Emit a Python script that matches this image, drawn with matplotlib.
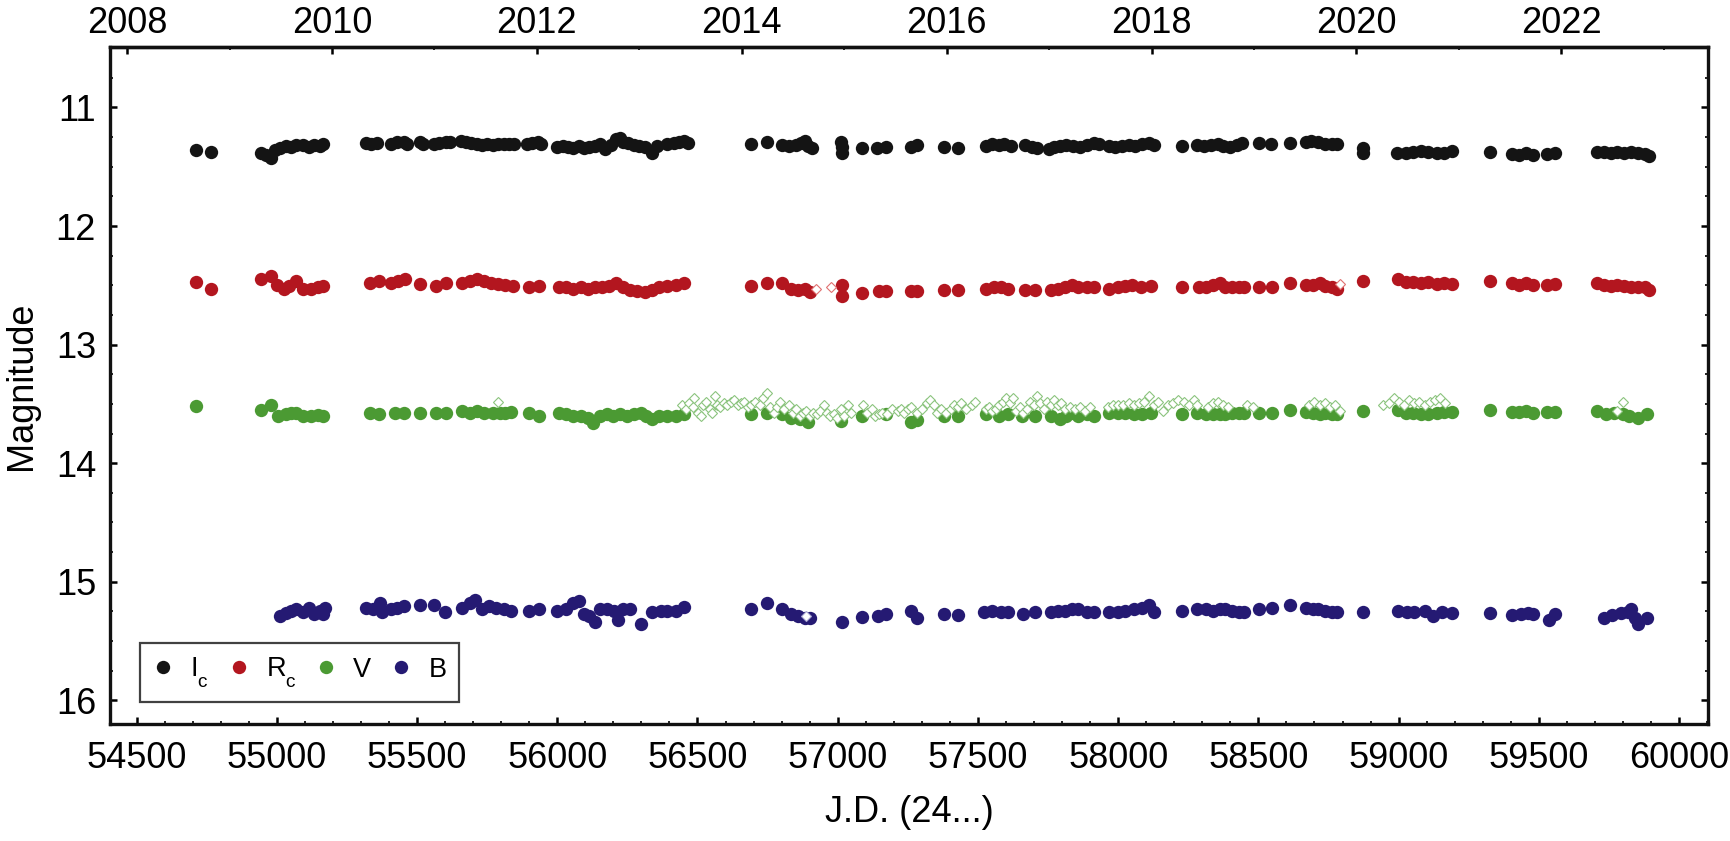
import matplotlib
matplotlib.use("Agg")
import matplotlib.pyplot as plt
from matplotlib.lines import Line2D
from matplotlib.ticker import MultipleLocator, FixedLocator

plt.rcParams['font.family'] = ['Liberation Sans', 'DejaVu Sans']
plt.rcParams['mathtext.fontset'] = 'custom'
plt.rcParams['mathtext.rm'] = 'Liberation Sans'
plt.rcParams['mathtext.it'] = 'Liberation Sans'
try:
    import matplotlib._mathtext as _mt
    _mt.FontConstantsBase.sub1 = 0.75
except Exception:
    pass

# ---------------- data (J.D. - 2400000, magnitude) ----------------
jd_I = [54711, 54767, 54943, 54962, 54981, 54994, 55013, 55032, 55051, 55070, 55095, 55114, 55134, 55153, 55165,
        55318, 55337, 55357, 55407, 55427, 55452, 55465, 55509, 55522, 55560, 55579, 55605, 55618,
        55656, 55675, 55694, 55713, 55732, 55751, 55770, 55790, 55809, 55828, 55847,
        55891, 55911, 55930, 55943,
        56000, 56019, 56038, 56057, 56076, 56095, 56114, 56133, 56153, 56172, 56191, 56210, 56223, 56235, 56254,
        56274, 56293, 56312, 56337, 56356, 56391, 56415, 56434, 56452, 56465,
        56692, 56747, 56802, 56827, 56851, 56870, 56882, 56894, 56907,
        57011, 57015, 57016, 57085, 57140, 57171, 57263, 57281, 57379, 57429,
        57527, 57551, 57576, 57594, 57619, 57668, 57693, 57711,
        57754, 57772, 57791, 57815, 57840, 57865, 57889, 57914, 57932,
        57969, 57987, 58012, 58037, 58061, 58086, 58110, 58129, 58227,
        58282, 58307, 58331, 58356, 58374, 58399, 58423, 58442, 58503, 58546, 58614,
        58669, 58688, 58712, 58737, 58761, 58780, 58872, 58874,
        58995, 59025, 59050, 59080, 59105, 59136, 59160, 59191, 59326,
        59406, 59430, 59455, 59480, 59529, 59559,
        59707, 59731, 59756, 59780, 59805, 59830, 59854, 59879, 59891]
mag_I = [11.357, 11.375, 11.382, 11.404, 11.425, 11.357, 11.341, 11.326, 11.332, 11.319, 11.313, 11.332, 11.319, 11.326, 11.307,
         11.301, 11.307, 11.301, 11.310, 11.294, 11.294, 11.310, 11.294, 11.307, 11.310, 11.301, 11.288, 11.294,
         11.279, 11.294, 11.301, 11.310, 11.313, 11.307, 11.313, 11.310, 11.310, 11.310, 11.307,
         11.310, 11.301, 11.294, 11.307,
         11.332, 11.326, 11.332, 11.344, 11.326, 11.338, 11.332, 11.326, 11.310, 11.351, 11.319, 11.263, 11.257, 11.294, 11.301,
         11.313, 11.326, 11.332, 11.382, 11.326, 11.310, 11.301, 11.294, 11.279, 11.301,
         11.310, 11.288, 11.319, 11.326, 11.319, 11.301, 11.279, 11.326, 11.341,
         11.288, 11.332, 11.382, 11.341, 11.341, 11.332, 11.332, 11.319, 11.332, 11.341,
         11.326, 11.310, 11.319, 11.310, 11.326, 11.319, 11.332, 11.341,
         11.351, 11.332, 11.326, 11.319, 11.326, 11.332, 11.319, 11.301, 11.310,
         11.326, 11.332, 11.326, 11.319, 11.326, 11.310, 11.301, 11.319, 11.326,
         11.319, 11.326, 11.313, 11.310, 11.326, 11.332, 11.313, 11.301, 11.301, 11.310, 11.301,
         11.294, 11.279, 11.288, 11.310, 11.310, 11.310, 11.341, 11.388,
         11.388, 11.382, 11.372, 11.369, 11.375, 11.388, 11.382, 11.369, 11.372,
         11.394, 11.404, 11.388, 11.404, 11.394, 11.388,
         11.372, 11.375, 11.382, 11.375, 11.382, 11.375, 11.382, 11.394, 11.407]

jd_R = [54711, 54767, 54943, 54981, 55000, 55025, 55044, 55070, 55095, 55121, 55146, 55165,
        55331, 55363, 55407, 55433, 55458, 55509, 55567, 55605,
        55662, 55688, 55713, 55739, 55764, 55790, 55815, 55841, 55898, 55936,
        56006, 56032, 56057, 56083, 56108, 56133, 56159, 56184, 56210, 56235, 56261, 56286, 56312, 56337, 56363,
        56391, 56422, 56452, 56692, 56747, 56802, 56833, 56858, 56882, 56901,
        57015, 57017, 57085, 57146, 57171, 57263, 57281, 57379, 57429,
        57527, 57558, 57582, 57607, 57668, 57705,
        57760, 57785, 57809, 57834, 57858, 57889, 57914,
        57969, 58000, 58024, 58049, 58080, 58116, 58227,
        58288, 58313, 58337, 58362, 58380, 58405, 58430, 58448, 58503, 58550, 58614,
        58669, 58694, 58718, 58737, 58761, 58780, 58872,
        58997, 59025, 59050, 59080, 59105, 59136, 59160, 59191, 59326,
        59406, 59430, 59455, 59480, 59529, 59559,
        59707, 59731, 59756, 59780, 59805, 59830, 59854, 59879, 59891]
mag_R = [12.471, 12.534, 12.449, 12.424, 12.496, 12.528, 12.506, 12.465, 12.528, 12.528, 12.518, 12.506,
         12.481, 12.465, 12.481, 12.465, 12.449, 12.490, 12.503, 12.481,
         12.481, 12.465, 12.449, 12.465, 12.481, 12.490, 12.496, 12.503, 12.512, 12.503,
         12.512, 12.518, 12.528, 12.518, 12.528, 12.518, 12.518, 12.506, 12.481, 12.518, 12.543, 12.549, 12.559, 12.537, 12.518,
         12.506, 12.496, 12.481, 12.503, 12.481, 12.481, 12.528, 12.543, 12.528, 12.559,
         12.496, 12.590, 12.568, 12.549, 12.549, 12.549, 12.549, 12.537, 12.537,
         12.528, 12.512, 12.518, 12.528, 12.537, 12.537,
         12.543, 12.528, 12.512, 12.496, 12.512, 12.518, 12.518,
         12.528, 12.518, 12.506, 12.496, 12.518, 12.506, 12.518,
         12.518, 12.512, 12.496, 12.481, 12.512, 12.518, 12.518, 12.512, 12.512, 12.518, 12.481,
         12.496, 12.496, 12.481, 12.506, 12.518, 12.528, 12.465,
         12.443, 12.474, 12.474, 12.481, 12.474, 12.487, 12.481, 12.487, 12.465,
         12.481, 12.496, 12.481, 12.496, 12.496, 12.487,
         12.481, 12.496, 12.506, 12.496, 12.506, 12.512, 12.512, 12.518, 12.543]

jd_R_open = [56921, 56977, 58792]
mag_R_open = [12.528, 12.512, 12.487]

jd_V = [54711, 54943, 54981, 55006, 55032, 55051, 55070, 55095, 55121, 55146, 55165,
        55331, 55363, 55420, 55452, 55509, 55567, 55605,
        55662, 55688, 55713, 55739, 55770, 55796, 55815, 55834, 55898, 55936,
        56006, 56032, 56057, 56083, 56108, 56127, 56153, 56178, 56197, 56223, 56248, 56274, 56299, 56318, 56337, 56363,
        56391, 56422, 56452, 56692, 56747, 56802, 56833, 56864, 56894,
        57011, 57085, 57171, 57263, 57281, 57379, 57429,
        57527, 57576, 57607, 57656, 57705,
        57760, 57791, 57815, 57840, 57858, 57889, 57914,
        57969, 58000, 58024, 58055, 58086, 58116, 58227,
        58282, 58313, 58337, 58362, 58380, 58405, 58430, 58448, 58503, 58550, 58614,
        58669, 58694, 58718, 58737, 58761, 58780, 58872,
        58997, 59025, 59050, 59080, 59105, 59136, 59160, 59191, 59326,
        59406, 59430, 59455, 59480, 59529, 59559,
        59707, 59738, 59768, 59799, 59823, 59854, 59885]
mag_V = [13.517, 13.548, 13.511, 13.598, 13.589, 13.573, 13.580, 13.605, 13.605, 13.592, 13.605,
         13.580, 13.589, 13.573, 13.573, 13.573, 13.580, 13.580,
         13.558, 13.573, 13.558, 13.573, 13.580, 13.573, 13.580, 13.567, 13.580, 13.598,
         13.580, 13.589, 13.605, 13.605, 13.620, 13.661, 13.605, 13.589, 13.605, 13.589, 13.605, 13.589, 13.580, 13.605, 13.630, 13.605,
         13.598, 13.598, 13.589, 13.589, 13.580, 13.589, 13.620, 13.630, 13.652,
         13.642, 13.605, 13.589, 13.652, 13.636, 13.605, 13.605,
         13.589, 13.605, 13.589, 13.605, 13.598,
         13.605, 13.630, 13.605, 13.573, 13.605, 13.589, 13.598,
         13.580, 13.580, 13.573, 13.589, 13.589, 13.573, 13.589,
         13.573, 13.589, 13.589, 13.589, 13.589, 13.580, 13.580, 13.573, 13.573, 13.580, 13.548,
         13.567, 13.580, 13.589, 13.580, 13.589, 13.589, 13.558,
         13.548, 13.573, 13.580, 13.589, 13.589, 13.580, 13.567, 13.567, 13.548,
         13.567, 13.567, 13.558, 13.573, 13.567, 13.567,
         13.558, 13.589, 13.573, 13.589, 13.605, 13.620, 13.589]

jd_V_open = [55790,
             56446, 56458, 56471, 56483, 56489, 56501, 56514, 56520, 56532, 56544, 56551, 56563, 56569, 56581, 56594,
             56606, 56618, 56630, 56643, 56655, 56667, 56680, 56692, 56704, 56723, 56735, 56747, 56759, 56772, 56784,
             56796, 56808, 56827, 56839, 56851, 56864, 56876, 56888, 56900, 56913, 56925, 56937, 56950, 56962, 56974,
             56986, 56999, 57011, 57023, 57036, 57048, 57091, 57103, 57122, 57134, 57146, 57158, 57177, 57195,
             57214, 57226, 57238, 57251, 57263, 57281, 57300, 57318, 57330, 57343, 57355, 57367, 57386, 57404, 57416,
             57429, 57441, 57459, 57478, 57490, 57527, 57539, 57551, 57564, 57576, 57588, 57601, 57613, 57625, 57637,
             57650, 57662, 57674, 57687, 57699, 57711, 57723, 57736, 57748, 57760, 57772, 57785, 57797, 57809, 57828,
             57846, 57865, 57883, 57901, 57963, 57981, 58000, 58018, 58037, 58055, 58073, 58092, 58110, 58129, 58141,
             58159, 58178, 58196, 58215, 58233, 58251, 58270, 58282, 58319, 58337, 58356, 58374, 58393, 58460, 58479,
             58681, 58700, 58718, 58737, 58755, 58773, 58792,
             58945, 58964, 58982, 59001, 59019, 59038, 59056, 59074, 59093, 59111, 59130, 59148, 59166,
             59780, 59799]
mag_V_open = [13.480,
              13.511, 13.542, 13.495, 13.527, 13.449, 13.573, 13.605, 13.511, 13.480, 13.542, 13.573, 13.433, 13.511, 13.527, 13.495,
              13.511, 13.480, 13.464, 13.511, 13.495, 13.480, 13.527, 13.511, 13.480, 13.511, 13.449, 13.411, 13.527, 13.573, 13.527,
              13.480, 13.542, 13.511, 13.573, 13.542, 13.605, 13.573, 13.558, 13.605, 13.573, 13.589, 13.558, 13.511, 13.573, 13.605,
              13.589, 13.620, 13.542, 13.605, 13.511, 13.573, 13.511, 13.573, 13.542, 13.605, 13.589, 13.573, 13.589, 13.542,
              13.558, 13.542, 13.573, 13.542, 13.527, 13.573, 13.542, 13.495, 13.464, 13.511, 13.573, 13.542, 13.573, 13.542, 13.511,
              13.527, 13.495, 13.542, 13.511, 13.480, 13.542, 13.527, 13.558, 13.542, 13.511, 13.480, 13.449, 13.495, 13.449, 13.558,
              13.527, 13.573, 13.542, 13.480, 13.511, 13.433, 13.495, 13.542, 13.480, 13.511, 13.464, 13.511, 13.495, 13.542, 13.527,
              13.542, 13.527, 13.558, 13.527, 13.527, 13.511, 13.511, 13.511, 13.495, 13.511, 13.495, 13.480, 13.433, 13.511, 13.480,
              13.558, 13.511, 13.495, 13.464, 13.480, 13.511, 13.464, 13.511, 13.527, 13.495, 13.480, 13.511, 13.527, 13.511, 13.527,
              13.511, 13.480, 13.511, 13.495, 13.527, 13.511, 13.558,
              13.511, 13.495, 13.449, 13.480, 13.511, 13.464, 13.495, 13.480, 13.511, 13.480, 13.464, 13.449, 13.495,
              13.558, 13.480]

jd_B = [55013, 55032, 55051, 55070, 55095, 55114, 55134, 55153, 55165, 55172,
        55318, 55344, 55369, 55376, 55407, 55427, 55452, 55509, 55560, 55599,
        55662, 55688, 55707, 55732, 55758, 55783, 55809, 55834, 55898, 55936,
        56000, 56032, 56057, 56076, 56095, 56114, 56133, 56153, 56178, 56203, 56216, 56235, 56261, 56299, 56337, 56369,
        56391, 56422, 56452, 56692, 56747, 56802, 56833, 56858, 56882, 56901,
        57015, 57085, 57142, 57171, 57263, 57281, 57379, 57429,
        57521, 57551, 57582, 57607, 57662, 57705,
        57760, 57785, 57809, 57834, 57858, 57889, 57914,
        57969, 58000, 58024, 58055, 58086, 58110, 58129, 58227,
        58282, 58313, 58337, 58362, 58380, 58405, 58430, 58448, 58503, 58550, 58614,
        58669, 58694, 58712, 58737, 58761, 58780, 58872,
        58997, 59031, 59056, 59093, 59123, 59154, 59191, 59326,
        59406, 59437, 59461, 59480, 59535, 59559,
        59731, 59762, 59793, 59817, 59830, 59842, 59854, 59885]
mag_B = [15.290, 15.266, 15.244, 15.228, 15.259, 15.222, 15.275, 15.244, 15.275, 15.222,
         15.222, 15.234, 15.181, 15.259, 15.228, 15.222, 15.203, 15.197, 15.197, 15.259,
         15.222, 15.181, 15.150, 15.228, 15.203, 15.222, 15.228, 15.244, 15.244, 15.234,
         15.244, 15.228, 15.181, 15.166, 15.275, 15.290, 15.337, 15.228, 15.228, 15.244, 15.322, 15.228, 15.228, 15.353, 15.259, 15.244,
         15.244, 15.244, 15.213, 15.234, 15.181, 15.228, 15.275, 15.290, 15.306, 15.306,
         15.337, 15.297, 15.290, 15.275, 15.244, 15.306, 15.275, 15.284,
         15.259, 15.244, 15.259, 15.253, 15.275, 15.253,
         15.253, 15.244, 15.244, 15.234, 15.228, 15.253, 15.253,
         15.253, 15.259, 15.244, 15.228, 15.222, 15.197, 15.259, 15.244,
         15.234, 15.228, 15.244, 15.234, 15.228, 15.244, 15.253, 15.253, 15.234, 15.222, 15.197,
         15.222, 15.234, 15.234, 15.244, 15.259, 15.259, 15.259,
         15.244, 15.259, 15.259, 15.244, 15.290, 15.259, 15.266, 15.266,
         15.284, 15.275, 15.266, 15.275, 15.322, 15.275,
         15.306, 15.284, 15.266, 15.259, 15.228, 15.306, 15.353, 15.306]

jd_B_open = [56888]
mag_B_open = [15.290]

band_labels = ['I$_\\mathrm{c}$', 'R$_\\mathrm{c}$', 'V', 'B']
band_colors = ['#141414', '#b3161f', '#4b9a33', '#251a73']
open_colors = {'R': '#e07070', 'V': '#8cc47e', 'B': '#a7a4d0'}

jd_ticks = [54500, 55000, 55500, 56000, 56500, 57000, 57500, 58000, 58500, 59000, 59500, 60000]
mag_ticks = [11, 12, 13, 14, 15, 16]
year_ticks = [2008, 2010, 2012, 2014, 2016, 2018, 2020, 2022]

# ---------------- figure ----------------
fig = plt.figure(figsize=(17.31, 8.41), dpi=100)
ax = fig.add_axes([0.0635, 0.1391, 0.9232, 0.805])

ms_dot = 9.6
for jd, mag, col in zip([jd_I, jd_R, jd_V, jd_B], [mag_I, mag_R, mag_V, mag_B], band_colors):
    ax.plot(jd, mag, 'o', ms=ms_dot, color=col, mec='none', zorder=3)

ax.plot(jd_R_open, mag_R_open, 'D', ms=5.6, mfc='white', mec=open_colors['R'], mew=0.8, zorder=4)
ax.plot(jd_V_open, mag_V_open, 'D', ms=5.6, mfc='white', mec=open_colors['V'], mew=0.8, zorder=4)
ax.plot(jd_B_open, mag_B_open, 'D', ms=5.6, mfc='white', mec=open_colors['B'], mew=0.8, zorder=4)

ax.set_xlim(54405, 60103)
ax.set_ylim(16.2, 10.49)

ax.xaxis.set_major_locator(FixedLocator(jd_ticks))
ax.xaxis.set_minor_locator(MultipleLocator(100))
ax.yaxis.set_major_locator(FixedLocator(mag_ticks))
ax.yaxis.set_minor_locator(MultipleLocator(0.25))

for s in ax.spines.values():
    s.set_linewidth(2.4)
    s.set_color('#111111')

ax.tick_params(axis='both', which='major', direction='in', length=5, width=1.8,
               labelsize=26, pad=10, top=False, right=True)
ax.tick_params(axis='both', which='minor', direction='in', length=2.5, width=1.2,
               top=False, right=True)
ax.tick_params(axis='x', which='major', pad=12)

ax.set_xlabel('J.D. (24...)', fontsize=26, labelpad=14)
ax.set_ylabel('Magnitude', fontsize=26, labelpad=12)

# top axis in calendar years (Jan 1 of each year)
def jd2year(x):
    return 2000.0 + (x - 51544.5) / 365.25

def year2jd(y):
    return 51544.5 + (y - 2000.0) * 365.25

sec = ax.secondary_xaxis('top', functions=(jd2year, year2jd))
sec.xaxis.set_major_locator(FixedLocator(year_ticks))
sec.xaxis.set_minor_locator(MultipleLocator(1))
sec.tick_params(axis='x', which='major', direction='in', length=5, width=1.8, labelsize=26, pad=4)
sec.tick_params(axis='x', which='minor', direction='in', length=2.5, width=1.2)
sec.spines['top'].set_linewidth(2.4)

handles = [Line2D([], [], ls='none', marker='o', ms=ms_dot, color=c, mec='none') for c in band_colors]
leg = ax.legend(handles, band_labels, loc='lower left', bbox_to_anchor=(0.0188, 0.0325),
                borderaxespad=0, ncol=4, fontsize=19.5, frameon=True, fancybox=False,
                handlelength=0.8, handletextpad=0.6, columnspacing=0.7, borderpad=0.45)
leg.get_frame().set_edgecolor('#111111')
leg.get_frame().set_linewidth(1.6)

fig.savefig('out.png', dpi=100)
